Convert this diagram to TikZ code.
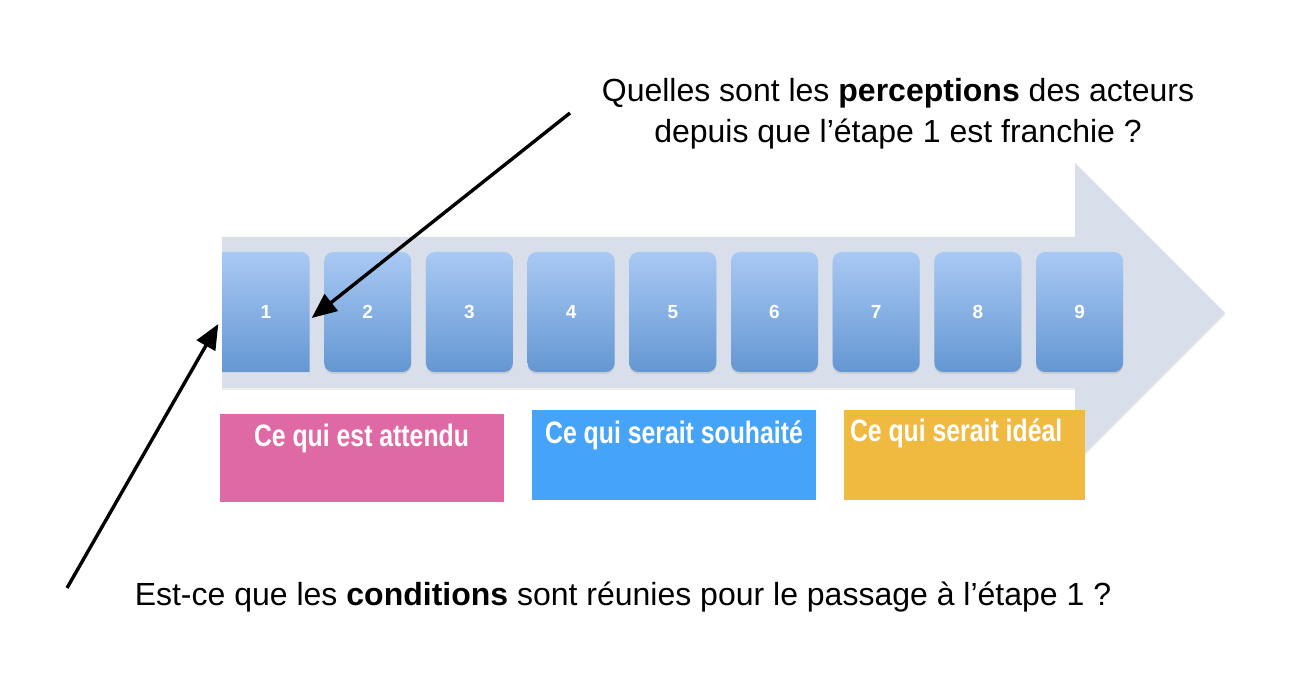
\documentclass[tikz,border=0pt]{standalone}
\usepackage{fontspec}
\setmainfont{Liberation Sans}
\newfontfamily\condfont[FakeStretch=0.8]{Liberation Sans}
\usetikzlibrary{arrows.meta,calc,shadows}

\definecolor{arrowgray}{HTML}{D9DFEA}
\definecolor{steptop}{HTML}{A9C9F4}
\definecolor{stepbot}{HTML}{6497D2}
\definecolor{pinkbox}{HTML}{DF69A4}
\definecolor{bluebox}{HTML}{45A4F7}
\definecolor{yellowbox}{HTML}{F0BA41}

\begin{document}
\begin{tikzpicture}[x=1pt, y=-1pt,
      stepbox/.style = {shape=rectangle, rounded corners=9pt,
        minimum width=87pt, minimum height=120pt, inner sep=0pt,
        top color=steptop, bottom color=stepbot, text=white,
        font=\bfseries\fontsize{19}{19}\selectfont,
        drop shadow={opacity=0.2, shadow xshift=0pt, shadow yshift=-2pt}},
      catbox/.style = {shape=rectangle, minimum height=87pt, inner sep=0pt},
      cattext/.style = {anchor=north, text=white, inner sep=0pt,
        font=\condfont\bfseries\fontsize{31}{31}\selectfont},
      question/.style = {align=center, inner sep=0pt,
        font=\fontsize{32}{41}\selectfont},
      sketch/.style = {draw=black, line width=3.4pt,
        -{Triangle[length=25pt,width=21pt]}}]
    \useasboundingbox (0,0) rectangle (1296,692);

    % big arrow in the back
    \fill[arrowgray, drop shadow={opacity=0.15, shadow xshift=0pt, shadow yshift=-2pt}]
      (222,237) -- (1075,237) -- (1075,163) -- (1225,313)
      -- (1075,463) -- (1075,388) -- (222,388) -- cycle;

    % the nine steps
    \node[shape=rectangle, minimum width=87pt, minimum height=120pt, inner sep=0pt]
      (b1) at (266,312) {};
    \shade[top color=steptop, bottom color=stepbot]
      (b1.south west) -- (b1.north west) [rounded corners=9pt] -- (b1.north east)
      [sharp corners] -- (b1.south east) -- cycle;
    \node[text=white, font=\bfseries\fontsize{19}{19}\selectfont] (n1) at (b1) {1};
    \foreach \i in {2,...,9}
      \node[stepbox] (b\i) at ({266+101.7*(\i-1)},312) {\i};

    % categories
    \node[catbox, fill=pinkbox, minimum width=284pt] (att) at (361.5,458) {};
    \node[cattext] (atttxt) at ([yshift=-10pt]att.north) {Ce qui est attendu};
    \node[catbox, fill=bluebox, minimum width=284pt, minimum height=90pt] (sou) at (674,455) {};
    \node[cattext] (soutxt) at ([yshift=-11pt]sou.north) {Ce qui serait souhaité};
    \node[catbox, fill=yellowbox, minimum width=241pt, minimum height=90pt] (ide) at (964.5,455) {};
    \node[cattext, anchor=north west] (idetxt) at ([xshift=6pt,yshift=-9pt]ide.north west) {Ce qui serait idéal};

    % questions
    \node[question] (perc) at (898,114)
      {Quelles sont les \textbf{perceptions} des acteurs\\
       depuis que l’étape 1 est franchie ?};
    \node[question] (cond) at (623,597)
      {Est-ce que les \textbf{conditions} sont réunies pour le passage à l’étape 1 ?};

    % hand drawn arrows
    \coordinate (percstart) at (570,113);
    \coordinate (condstart) at (67,588);
    \draw[sketch] (percstart) -- ($(b1.east)+(2,6)$);
    \draw[sketch] (condstart) -- ($(b1.west)+(-4,12)$);
\end{tikzpicture}
\end{document}
